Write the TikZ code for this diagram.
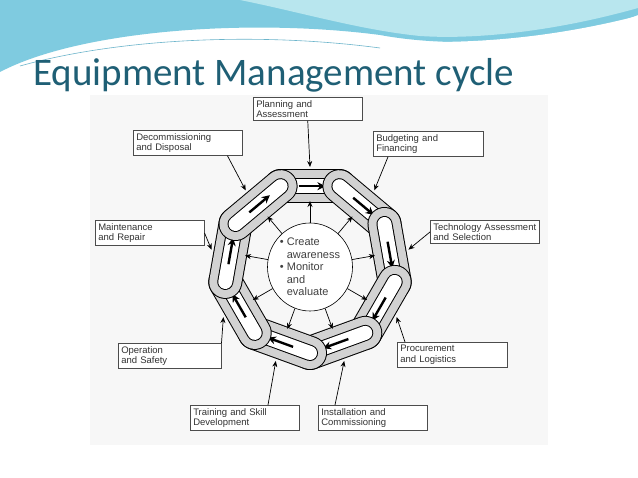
\documentclass[tikz,border=0pt]{standalone}
\usepackage{fontspec}
\setmainfont{Liberation Sans}
\newfontfamily\titlefont{Carlito}
\usetikzlibrary{calc,shapes.geometric,arrows.meta}
\definecolor{teal1}{HTML}{1F5F75}
\definecolor{wave1}{HTML}{7FCBE0}
\definecolor{wave2}{HTML}{B8E6EE}
\definecolor{linkgray}{HTML}{D2D2D2}
\tikzset{
  lbl/.style={draw=black!70,line width=0.5pt,fill=white,text=black!80,font=\fontsize{9.5}{10.5}\selectfont,align=left,anchor=north west,inner sep=3pt},
  feed/.style={-{Stealth[length=6pt,width=5pt]},black,line width=0.7pt},
  spoke/.style={-{Stealth[length=6pt,width=5pt]},black,line width=0.7pt},
  flow/.style={-{Stealth[length=8pt,width=8pt]},black,line width=2.4pt}
}
\begin{document}
\begin{tikzpicture}[x=1pt,y=-1pt]
\useasboundingbox (0,0) rectangle (638,478);
\fill[white] (0,0) rectangle (638,478);
% top wave
\fill[wave1] (0,0) -- (638,0) -- (638,15) .. controls (560,45) and (450,48) .. (380,35) .. controls (250,18) and (80,30) .. (0,72) -- cycle;
\fill[wave2] (240,0) -- (638,0) -- (638,8) .. controls (560,30) and (480,40) .. (420,36) .. controls (360,30) and (300,12) .. (240,0) -- cycle;
\draw[white,line width=4pt] (0,76) .. controls (80,40) and (200,28) .. (330,38) .. controls (420,48) and (520,48) .. (638,18);
\draw[wave1!80!teal1,line width=0.6pt] (20,66) .. controls (120,38) and (260,32) .. (380,48);
\node[anchor=base west,text=teal1,font=\titlefont\fontsize{39}{44}\selectfont,inner sep=0] (title) at (33,86) {Equipment Management cycle};
% diagram background
\fill[black!3] (90,95) rectangle (548,445);
\coordinate (C) at (310,267);
% chain links
\foreach \i in {0,...,8}{
  \pgfmathsetmacro\aa{110-40*\i}
  \pgfmathsetmacro\bb{70-40*\i}
  \coordinate (A) at ($(C)+({86*cos(\aa)},{-86*sin(\aa)})$);
  \coordinate (B) at ($(C)+({86*cos(\bb)},{-86*sin(\bb)})$);
  \draw[line width=34pt,black,line cap=round] (A)--(B);
  \draw[line width=32pt,linkgray,line cap=round] (A)--(B);
  \draw[line width=16pt,black,line cap=round] (A)--(B);
  \draw[line width=14pt,white,line cap=round] (A)--(B);
  \draw[flow,shorten <=18pt,shorten >=14pt] (A)--(B);
}
% centre
\node[ellipse,draw=black,line width=0.6pt,fill=white,minimum width=76pt,minimum height=88pt,inner sep=0,text=black!75,font=\fontsize{11}{12.5}\selectfont,align=left] (E) at (C) {\textbullet\ Create\\\phantom{\textbullet\ }awareness\\\textbullet\ Monitor\\\phantom{\textbullet\ }and\\\phantom{\textbullet\ }evaluate};
\foreach \a in {90,50,10,-30,-70,-110,-150,170,130}{
  \draw[spoke] (E.\a) -- ($(C)+({66*cos(\a)},{-66*sin(\a)})$);
  \coordinate (t\a) at ($(C)+({100*cos(\a)},{-100*sin(\a)})$);
}
% boxes
\node[lbl,text width=103pt] (plan) at (253,97) {Planning and\\Assessment};
\node[lbl,text width=103pt] (dec) at (133,130) {Decommissioning\\and Disposal};
\node[lbl,text width=104pt] (bud) at (373,131) {Budgeting and\\Financing};
\node[lbl,text width=103pt] (tech) at (430,220) {Technology Assessment\\and Selection};
\node[lbl,text width=103pt] (main) at (95,220) {Maintenance\\and Repair};
\node[lbl,text width=97pt] (oper) at (118,343) {Operation\\and Safety};
\node[lbl,text width=104pt] (proc) at (397,342) {Procurement\\and Logistics};
\node[lbl,text width=103pt] (train) at (190,405) {Training and Skill\\Development};
\node[lbl,text width=103pt] (inst) at (318,405) {Installation and\\Commissioning};
% feeds
\draw[feed] (plan.south) -- (t90);
\draw[feed] ([xshift=-15pt]dec.south east) -- (t130);
\draw[feed] ([xshift=15pt]bud.south west) -- (t50);
\draw[feed] (tech.west) -- (t10);
\draw[feed] (main.east) -- (t170);
\draw[feed] (oper.north east) -- (t-150);
\draw[feed] ([xshift=8pt]proc.north west) -- (t-30);
\draw[feed] ([xshift=78pt]train.north west) -- (t-110);
\draw[feed] ([xshift=17pt]inst.north west) -- (t-70);
\end{tikzpicture}
\end{document}
